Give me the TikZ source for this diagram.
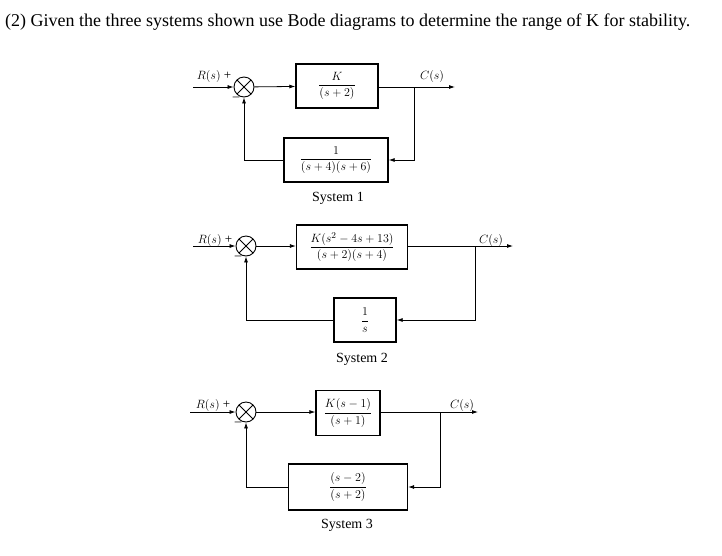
\documentclass[tikz,border=0pt]{standalone}
\usepackage{amsmath}
\usepackage{fontspec}
\setmainfont{Liberation Serif}
\usetikzlibrary{arrows.meta}
\begin{document}
\begin{tikzpicture}[x=1pt,y=-1pt,
 blk/.style={draw,line width=1.3pt,inner sep=0pt,font=\fontsize{12.5}{12.5}\selectfont},
 sum/.style={draw,circle,line width=0.9pt,minimum size=20pt,inner sep=0pt,path picture={\draw[line width=0.9pt] (path picture bounding box.north west)--(path picture bounding box.south east) (path picture bounding box.north east)--(path picture bounding box.south west);}},
 lbl/.style={font=\fontsize{13}{13}\selectfont,inner sep=0pt},
 sig/.style={line width=0.8pt,-{Latex[length=6pt,width=4pt]}},
 ln/.style={line width=0.8pt}]
\useasboundingbox (0,0) rectangle (722,555);
\node[anchor=west,font=\fontsize{18}{20}\selectfont,inner sep=0pt] (title) at (5,22) {(2) Given the three systems shown use Bode diagrams to determine the range of K for stability.};
% System 1
\coordinate (i1) at (193,87);
\node[sum] (s1) at (244,87) {};
\node[blk,minimum width=82pt,minimum height=44pt] (g1) at (337,86) {$\dfrac{K}{(s+2)}$};
\coordinate (b1) at (414,87); \coordinate (o1) at (455,87);
\node[blk,minimum width=104pt,minimum height=44pt] (h1) at (336,160) {$\dfrac{1}{(s+4)(s+6)}$};
\coordinate (f1) at (244,160);
\draw[sig] (i1) -- (s1); \draw[sig] (s1) -- (g1);
\draw[sig] (g1.east|-b1) -- (o1);
\draw[sig] (b1) |- (h1.east);
\draw[ln] (h1.west) -- (f1); \draw[sig] (f1) -- (s1.south);
\node[lbl] (r1) at (214,76) {$R(s)$ +};
\node[lbl] (m1) at (236,99) {--};
\node[lbl] (c1) at (432,76) {$C(s)$};
\node[lbl,font=\fontsize{14}{14}\selectfont] (n1) at (338,198) {System 1};
% System 2
\coordinate (i2) at (193,246);
\node[sum] (s2) at (246,246) {};
\node[blk,minimum width=111pt,minimum height=44pt] (g2) at (352,247) {$\dfrac{K(s^2-4s+13)}{(s+2)(s+4)}$};
\coordinate (b2) at (475,246); \coordinate (o2) at (513,246);
\node[blk,minimum width=62pt,minimum height=44pt] (h2) at (365,320) {$\dfrac{1}{s}$};
\coordinate (f2) at (246,320);
\draw[sig] (i2) -- (s2); \draw[sig] (s2) -- (g2.west|-s2);
\draw[sig] (g2.east|-b2) -- (o2);
\draw[sig] (b2) |- (h2.east);
\draw[ln] (h2.west) -- (f2); \draw[sig] (f2) -- (s2.south);
\node[lbl] (r2) at (215,240) {$R(s)$ +};
\node[lbl] (m2) at (238,258) {--};
\node[lbl] (c2) at (491,240) {$C(s)$};
\node[lbl,font=\fontsize{14}{14}\selectfont] (n2) at (362,359) {System 2};
% System 3
\coordinate (i3) at (190,412);
\node[sum] (s3) at (246,412) {};
\node[blk,minimum width=64pt,minimum height=45pt] (g3) at (348,413) {$\dfrac{K(s-1)}{(s+1)}$};
\coordinate (b3) at (440,412); \coordinate (o3) at (478,412);
\node[blk,minimum width=119pt,minimum height=46pt] (h3) at (348,487) {$\dfrac{(s-2)}{(s+2)}$};
\coordinate (f3) at (246,487);
\draw[sig] (i3) -- (s3); \draw[sig] (s3) -- (g3.west|-s3);
\draw[sig] (g3.east|-b3) -- (o3);
\draw[sig] (b3) |- (h3.east);
\draw[ln] (h3.west) -- (f3); \draw[sig] (f3) -- (s3.south);
\node[lbl] (r3) at (213,405) {$R(s)$ +};
\node[lbl] (m3) at (238,424) {--};
\node[lbl] (c3) at (462,405) {$C(s)$};
\node[lbl,font=\fontsize{14}{14}\selectfont] (n3) at (347,525) {System 3};
\end{tikzpicture}
\end{document}
